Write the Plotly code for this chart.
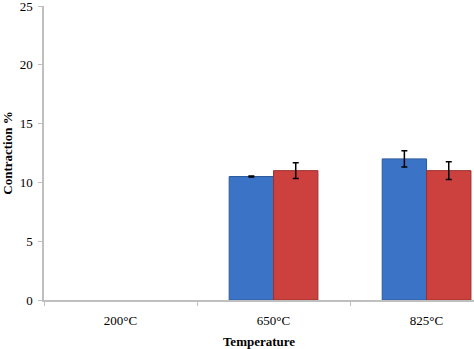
import plotly.graph_objects as go

categories = ["200°C", "650°C", "825°C"]
series_a = [None, 10.5, 12.0]
series_a_err = [0, 0.05, 0.7]
series_b = [None, 11.0, 11.0]
series_b_err = [0, 0.67, 0.75]
y_ticks = [0, 5, 10, 15, 20, 25]

font_family = "Liberation Serif, Times New Roman, serif"

fig = go.Figure()
fig.add_trace(go.Bar(
    x=categories, y=series_a, name="A",
    marker=dict(color="#3B74C6", line=dict(color="#2C5A9C", width=1)),
    error_y=dict(type="data", array=series_a_err, color="black", thickness=1.5, width=3),
))
fig.add_trace(go.Bar(
    x=categories, y=series_b, name="B",
    marker=dict(color="#CC403D", line=dict(color="#9E2F2D", width=1)),
    error_y=dict(type="data", array=series_b_err, color="black", thickness=1.5, width=3),
))

fig.update_layout(
    width=474, height=349,
    margin=dict(l=44, r=0, t=6, b=49, autoexpand=False),
    paper_bgcolor="white", plot_bgcolor="white",
    showlegend=False,
    barmode="group", bargap=0.42, bargroupgap=0,
    font=dict(family=font_family, size=13, color="black"),
)
fig.update_xaxes(
    type="category", range=[-0.5, 2.31], automargin=False,
    showline=True, linecolor="#BFBFBF", linewidth=1.5,
    ticks="outside", tickson="boundaries", ticklen=4, tickcolor="#BFBFBF",
    ticklabelstandoff=8,
    showgrid=False,
    title=dict(text="<b>Temperature</b>", font=dict(family=font_family, size=13), standoff=12),
    tickfont=dict(family=font_family, size=13),
)
fig.update_yaxes(
    range=[0, 25], tickvals=y_ticks, automargin=False,
    ticklabeloverflow="allow",
    showline=True, linecolor="#BFBFBF", linewidth=1.5,
    ticks="outside", ticklen=4, tickcolor="#BFBFBF",
    ticklabelstandoff=3,
    showgrid=False, zeroline=False,
    title=dict(text="<b>Contraction %</b>", font=dict(family=font_family, size=13), standoff=6),
    tickfont=dict(family=font_family, size=13),
)

fig.write_html("out.html")
